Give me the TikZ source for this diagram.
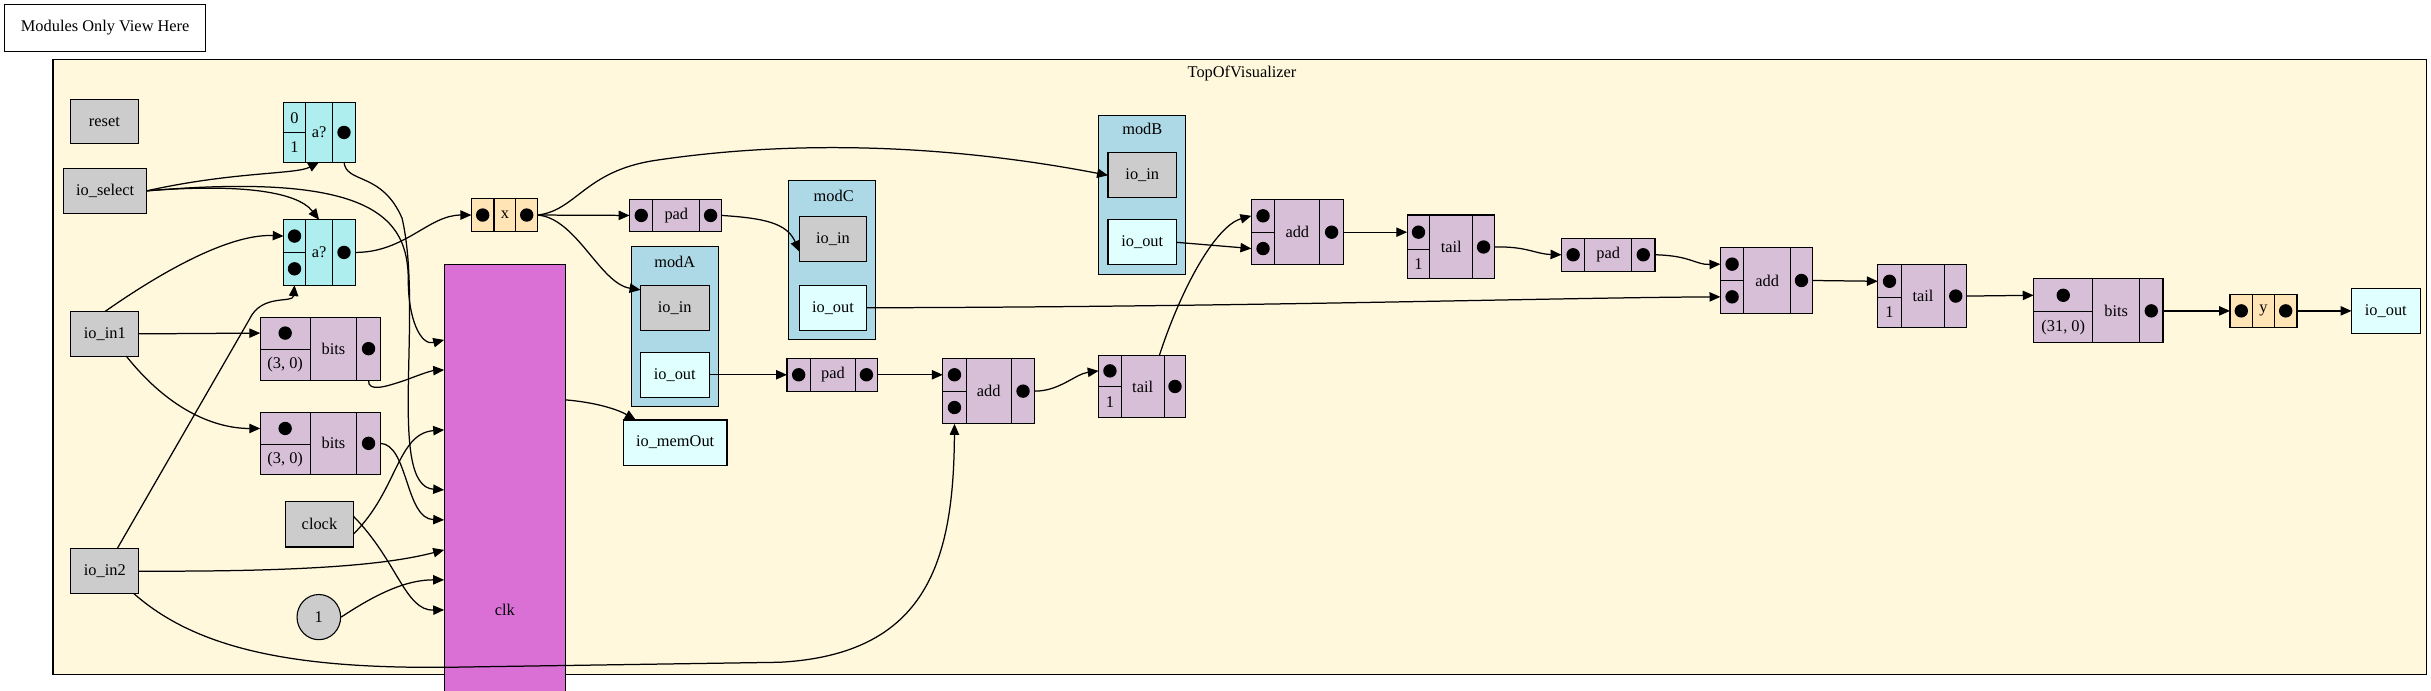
\documentclass[tikz,border=0pt]{standalone}
\usepackage{fontspec}
\setmainfont{Liberation Serif}
\usetikzlibrary{arrows.meta,shapes.geometric}
\definecolor{bg}{HTML}{FFF8DC}
\definecolor{pur}{HTML}{D8BFD8}
\definecolor{cy}{HTML}{AFEEEE}
\definecolor{org}{HTML}{FFE4B5}
\definecolor{mag}{HTML}{DA70D6}
\definecolor{mod}{HTML}{ADD8E6}
\definecolor{lc}{HTML}{E0FFFF}
\definecolor{gr}{HTML}{CCCCCC}
\newcommand\cell[7]{\node[cellst,fill=#6,minimum width={(#4-#2)*1pt},minimum height={(#5-#3)*1pt}] (#1) at ({(#2+#4)/2},{(#3+#5)/2}) {#7};}
\newcommand\dcell[6]{\cell{#1}{#2}{#3}{#4}{#5}{#6}{}\fill (#1) circle (4.3);}
\begin{document}
\begin{tikzpicture}[x=1pt,y=-1pt,font=\fontsize{10.5}{12}\selectfont,
  cellst/.style={draw,line width=0.7pt,inner sep=0pt,outer sep=0pt},
  e/.style={draw,line width=0.8pt,-{Triangle[length=7pt,width=6pt]}}]
\useasboundingbox (0,0) rectangle (1560,443);
\node[draw,fill=white,minimum width=129,minimum height=30,inner sep=0] (title) at (67.5,18) {Modules Only View Here};
\node[draw,fill=bg,line width=0.8pt,minimum width=1523,minimum height=395,inner sep=0] (top) at (795.5,235.5) {};
\node (toplbl) at (797,47) {TopOfVisualizer};
% inputs
\cell{reset}{45}{64}{89}{92}{gr}{reset}
\cell{iosel}{41}{108}{94}{137}{gr}{io\_select}
\cell{ioin1}{45.5}{200}{89}{228.5}{gr}{io\_in1}
\cell{ioin2}{45.5}{352}{89}{381}{gr}{io\_in2}
\cell{clock}{183}{322}{227}{351}{gr}{clock}
\node[draw,line width=0.7pt,fill=gr,ellipse,minimum width=28,minimum height=29,inner sep=0] (one) at (204.6,396) {1};
% mux1
\cell{m1a}{182}{66}{196}{85}{cy}{0}
\cell{m1b}{182}{85}{196}{104}{cy}{1}
\cell{m1c}{196}{66}{213.5}{104}{cy}{a?}
\dcell{m1d}{213.5}{66}{228}{104}{cy}
% mux2
\dcell{m2a}{182}{141}{196}{162}{cy}
\dcell{m2b}{182}{162}{196}{183}{cy}
\cell{m2c}{196}{141}{213.5}{183}{cy}{a?}
\dcell{m2d}{213.5}{141}{228}{183}{cy}
% bits1, bits2
\dcell{b1a}{167}{203.5}{199}{224}{pur}
\cell{b1b}{167}{224}{199}{244}{pur}{(3, 0)}
\cell{b1c}{199}{203.5}{229}{244}{pur}{bits}
\dcell{b1d}{229}{203.5}{244}{244}{pur}
\dcell{b2a}{167}{264.5}{199}{285.4}{pur}
\cell{b2b}{167}{285.4}{199}{304.5}{pur}{(3, 0)}
\cell{b2c}{199}{264.5}{229}{304.5}{pur}{bits}
\dcell{b2d}{229}{264.5}{244}{304.5}{pur}
% memory
\foreach \t [count=\i] in {Mem myMem,read port \_T\_3,en,addr,data,clk,write port \_T\_1,en,addr,data,mask,clk}{
  \cell{mem\i}{285}{170+(\i-1)*19.25}{363}{170+\i*19.25}{mag}{\t}}
\cell{iomem}{400}{269.5}{466.5}{298.5}{lc}{io\_memOut}
% x
\dcell{xa}{302.5}{127.5}{317}{148.5}{org}
\cell{xb}{317}{127.5}{331}{148.5}{org}{x}
\dcell{xc}{331}{127.5}{345}{148.5}{org}
% pad1
\dcell{p1a}{404}{128}{419}{148.5}{pur}
\cell{p1b}{419}{128}{449}{148.5}{pur}{pad}
\dcell{p1c}{449}{128}{463}{148.5}{pur}
% modA
\node[draw,fill=mod,line width=0.7pt,minimum width=56,minimum height=103,inner sep=0] (modA) at (433,209.5) {};
\node at (433,168) {modA};
\cell{aIn}{411}{183}{455}{212}{gr}{io\_in}
\cell{aOut}{411}{226}{455}{255}{lc}{io\_out}
% modC
\node[draw,fill=mod,line width=0.7pt,minimum width=56,minimum height=102,inner sep=0] (modC) at (534,167) {};
\node at (535,126) {modC};
\cell{cIn}{513}{139}{556}{168}{gr}{io\_in}
\cell{cOut}{513}{183}{556}{212}{lc}{io\_out}
% modB
\node[draw,fill=mod,line width=0.7pt,minimum width=56,minimum height=102,inner sep=0] (modB) at (733,125) {};
\node at (733,83) {modB};
\cell{bIn}{711}{98}{755}{127}{gr}{io\_in}
\cell{bOut}{711}{141}{755}{170}{lc}{io\_out}
% pad2
\dcell{p2a}{505}{230}{520}{251}{pur}
\cell{p2b}{520}{230}{549}{251}{pur}{pad}
\dcell{p2c}{549}{230}{563}{251}{pur}
% add1
\dcell{d1a}{605}{230}{620}{251}{pur}
\dcell{d1b}{605}{251}{620}{272}{pur}
\cell{d1c}{620}{230}{649}{272}{pur}{add}
\dcell{d1d}{649}{230}{664}{272}{pur}
% tail1
\dcell{t1a}{705}{228}{719.5}{248}{pur}
\cell{t1b}{705}{248}{719.5}{268}{pur}{1}
\cell{t1c}{719.5}{228}{747}{268}{pur}{tail}
\dcell{t1d}{747}{228}{761}{268}{pur}
% add2
\dcell{d2a}{803}{128}{818}{149}{pur}
\dcell{d2b}{803}{149}{818}{170}{pur}
\cell{d2c}{818}{128}{847}{170}{pur}{add}
\dcell{d2d}{847}{128}{862}{170}{pur}
% tail2
\dcell{t2a}{903}{138}{917.5}{160}{pur}
\cell{t2b}{903}{160}{917.5}{179}{pur}{1}
\cell{t2c}{917.5}{138}{945}{179}{pur}{tail}
\dcell{t2d}{945}{138}{959}{179}{pur}
% pad3
\dcell{p3a}{1002}{153}{1017}{174}{pur}
\cell{p3b}{1017}{153}{1047}{174}{pur}{pad}
\dcell{p3c}{1047}{153}{1062}{174}{pur}
% add3
\dcell{d3a}{1104}{159}{1119}{180}{pur}
\dcell{d3b}{1104}{180}{1119}{201}{pur}
\cell{d3c}{1119}{159}{1149}{201}{pur}{add}
\dcell{d3d}{1149}{159}{1163}{201}{pur}
% tail3
\dcell{t3a}{1205}{170}{1220}{191}{pur}
\cell{t3b}{1220}{170}{1220}{191}{pur}{}
\cell{t3e}{1205}{191}{1220}{210}{pur}{1}
\cell{t3c}{1220}{170}{1248}{210}{pur}{tail}
\dcell{t3d}{1248}{170}{1262}{210}{pur}
% bits3
\dcell{b3a}{1305}{179}{1343}{200}{pur}
\cell{b3b}{1305}{200}{1343}{220}{pur}{(31, 0)}
\cell{b3c}{1343}{179}{1373}{220}{pur}{bits}
\dcell{b3d}{1373}{179}{1388}{220}{pur}
% y
\dcell{ya}{1431}{189}{1445.5}{210}{org}
\cell{yb}{1445.5}{189}{1459.5}{210}{org}{y}
\dcell{yc}{1459.5}{189}{1474}{210}{org}
\cell{ioout}{1509}{185}{1553}{214}{lc}{io\_out}
% edges
\path[e] (iosel.east) .. controls (150,110) and (190,112) .. (m1c.south);
\path[e] (iosel.east) .. controls (150,118) and (190,122) .. (m2c.north);
\path[e] (iosel.east) .. controls (240,110) and (262,140) .. (262,180) .. controls (262,205) and (270,222) .. (mem3.west);
\path[e] (m1d.south) .. controls (222,118) and (245,110) .. (258,140) .. controls (272,200) and (248,312) .. (mem8.west);
\path[e] (ioin1.north) .. controls (110,170) and (150,150) .. (m2a.west);
\path[e] ([xshift=8pt]ioin2.north) -- (160,205) .. controls (168,188) and (188,195) .. (m2b.south);
\path[e] (ioin1.east) -- (b1a.west);
\path[e] ([xshift=-8pt]ioin1.south east) .. controls (110,265) and (140,275) .. (b2a.west);
\path[e] (b1d.south) .. controls (236,252) and (248,248) .. (260,244) .. controls (268,241) and (276,238) .. (mem4.west);
\path[e] (b2d.east) .. controls (262,285) and (260,333) .. (mem9.west);
\path[e] ([yshift=-6pt]clock.east) .. controls (255,315) and (255,278) .. (mem6.west);
\path[e] ([yshift=5pt]clock.east) .. controls (255,360) and (260,392) .. (mem12.west);
\path[e] (ioin2.east) .. controls (200,367) and (250,362) .. (mem10.west);
\path[e] (one.east) .. controls (240,382) and (260,372) .. (mem11.west);
\path[e] (mem5.east) .. controls (380,258) and (395,262) .. ([xshift=8pt]iomem.north west);
\path[e] (m2d.east) .. controls (260,162) and (275,138) .. (xa.west);
\path[e] (xc.east) -- (p1a.west);
\path[e] (xc.east) .. controls (370,140) and (385,182) .. ([yshift=-3pt]aIn.north west);
\path[e] (xc.east) .. controls (370,135) and (375,110) .. (420,103) .. controls (520,88) and (620,95) .. (bIn.west);
\path[e] (p1c.east) .. controls (490,140) and (505,143) .. ([yshift=-8pt]cIn.west);
\path[e] (aOut.east) -- (p2a.west);
\path[e] (p2c.east) -- (d1a.west);
\path[e] ([xshift=-3pt]ioin2.south east) .. controls (130,420) and (200,430) .. (300,428) -- (500,425) .. controls (595,420) and (612,360) .. (d1b.south);
\path[e] (d1d.east) .. controls (680,251) and (690,240) .. (t1a.west);
\path[e] ([xshift=-3pt]t1d.north west) .. controls (758,185) and (780,145) .. (d2a.west);
\path[e] (bOut.east) -- (d2b.west);
\path[e] (d2d.east) -- (t2a.west);
\path[e] (t2d.east) .. controls (980,158) and (985,163) .. (p3a.west);
\path[e] (p3c.east) .. controls (1085,164) and (1088,170) .. (d3a.west);
\path[e] (cOut.east) .. controls (800,197) and (1000,191) .. (d3b.west);
\path[e] (d3d.east) -- (t3a.west);
\path[e] (t3d.east) -- (b3a.west);
\path[e] (b3d.east) -- (ya.west);
\path[e] (yc.east) -- (ioout.west);
\end{tikzpicture}
\end{document}
